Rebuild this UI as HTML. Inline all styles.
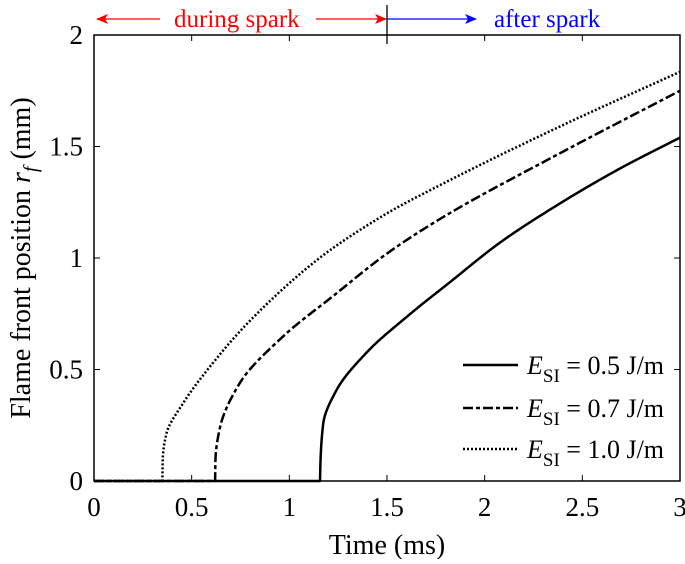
<!DOCTYPE html>
<html><head><meta charset="utf-8"><style>
body{margin:0;background:#fff;}
svg text{font-family:"Liberation Serif",serif;}
</style></head><body>
<svg width="685" height="559" viewBox="0 0 685 559">
<defs>
<marker id="ar" markerWidth="12" markerHeight="10" refX="11" refY="5" orient="auto" markerUnits="userSpaceOnUse"><path d="M0,0 L12,5 L0,10 L3,5Z" fill="red"/></marker>
<marker id="ab" markerWidth="12" markerHeight="10" refX="11" refY="5" orient="auto" markerUnits="userSpaceOnUse"><path d="M0,0 L12,5 L0,10 L3,5Z" fill="blue"/></marker>
</defs>
<g>
<line x1="160" y1="19" x2="97" y2="19" stroke="red" stroke-width="1.3" marker-end="url(#ar)"/>
<text x="174" y="27" fill="red" font-size="25">during spark</text>
<line x1="316" y1="19" x2="386" y2="19" stroke="red" stroke-width="1.3" marker-end="url(#ar)"/>
<line x1="387" y1="5" x2="387" y2="44" stroke="#000" stroke-width="1.3"/>
<line x1="387" y1="19" x2="476" y2="19" stroke="blue" stroke-width="1.3" marker-end="url(#ab)"/>
<text x="494" y="27" fill="blue" font-size="25">after spark</text>
</g>
<g id="axes"></g>
<g id="series"></g>
<rect x="94" y="35" width="586" height="446" fill="none" stroke="#000" stroke-width="1.5"/>
<text x="387" y="554" text-anchor="middle" font-size="28">Time (ms)</text>
<text transform="translate(30,258) rotate(-90)" text-anchor="middle" font-size="28">Flame front position  <tspan font-style="italic">r</tspan><tspan font-style="italic" font-size="20" dy="7">f</tspan><tspan dy="-7"> (mm)</tspan></text>
<g>
<line x1="463" y1="365" x2="518" y2="365" stroke="#000" stroke-width="2.5"/>
<text x="527" y="374" font-size="26"><tspan font-style="italic">E</tspan><tspan font-size="19" dy="8">SI</tspan><tspan dy="-8"> = 0.5 J/m</tspan></text>
<line x1="463" y1="408" x2="518" y2="408" stroke="#000" stroke-width="2.5" stroke-dasharray="10,3,4,3"/>
<text x="527" y="417" font-size="26"><tspan font-style="italic">E</tspan><tspan font-size="19" dy="8">SI</tspan><tspan dy="-8"> = 0.7 J/m</tspan></text>
<line x1="463" y1="449" x2="518" y2="449" stroke="#000" stroke-width="2.5" stroke-dasharray="2,2"/>
<text x="527" y="458" font-size="26"><tspan font-style="italic">E</tspan><tspan font-size="19" dy="8">SI</tspan><tspan dy="-8"> = 1.0 J/m</tspan></text>
</g>
</svg>
<script>
const xTicks=[0,0.5,1,1.5,2,2.5,3];
const xTickLabels=["0","0.5","1","1.5","2","2.5","3"];
const yTicks=[0,0.5,1,1.5,2];
const yTickLabels=["0","0.5","1","1.5","2"];
const t05=[0,1.157,1.16,1.174,1.243,1.40,1.62,1.82,2.08,2.386,2.69,3];
const r05=[0,0,0.1,0.26,0.41,0.58,0.75,0.89,1.07,1.245,1.40,1.54];
const t07=[0,0.62,0.622,0.645,0.747,0.97,1.225,1.50,1.80,2.386,3];
const r07=[0,0,0.1,0.24,0.44,0.65,0.83,1.02,1.19,1.47,1.75];
const t10=[0,0.35,0.352,0.37,0.457,0.628,0.80,1.14,1.48,1.79,2.386,3];
const r10=[0,0,0.1,0.21,0.35,0.55,0.72,0.99,1.19,1.335,1.59,1.835];
const NS="http://www.w3.org/2000/svg";
const X=v=>94+v/3*586, Y=v=>481-v/2*446;
const ax=document.getElementById('axes'), se=document.getElementById('series');
function mk(tag,attrs,parent){const e=document.createElementNS(NS,tag);for(const k in attrs)e.setAttribute(k,attrs[k]);parent.appendChild(e);return e;}
xTicks.forEach((v,i)=>{
 const a=mk('line',{x1:X(v),x2:X(v),y1:481,y2:475,stroke:'#000','stroke-width':1},ax);
 
 
 const b=mk('line',{x1:X(v),x2:X(v),y1:35,y2:41,stroke:'#000','stroke-width':1},ax);
 
 
 const t=mk('text',{x:X(v),y:516,'text-anchor':'middle','font-size':27},ax);t.textContent=xTickLabels[i];
 
 
});
yTicks.forEach((v,i)=>{
 const a=mk('line',{x1:94,x2:100,y1:Y(v),y2:Y(v),stroke:'#000','stroke-width':1},ax);
 
 
 const b=mk('line',{x1:674,x2:680,y1:Y(v),y2:Y(v),stroke:'#000','stroke-width':1},ax);
 
 
 const t=mk('text',{x:83,y:Y(v)+9,'text-anchor':'end','font-size':27},ax);t.textContent=yTickLabels[i];
 
 
});
// monotone cubic (Fritsch-Carlson) of t as a function of r, for the rising part
function monotone(xs,ys){
 const n=xs.length,d=[],m=new Array(n);
 for(let i=0;i<n-1;i++)d.push((ys[i+1]-ys[i])/(xs[i+1]-xs[i]));
 m[0]=d[0];m[n-1]=d[n-2];
 for(let i=1;i<n-1;i++)m[i]=(d[i-1]*d[i]<=0)?0:2/(1/d[i-1]+1/d[i]);
 return function(x){
  let i=0;while(i<n-2&&x>xs[i+1])i++;
  const h=xs[i+1]-xs[i],s=(x-xs[i])/h;
  const h00=2*s*s*s-3*s*s+1,h10=s*s*s-2*s*s+s,h01=-2*s*s*s+3*s*s,h11=s*s*s-s*s;
  return h00*ys[i]+h10*h*m[i]+h01*ys[i+1]+h11*h*m[i+1];
 };
}
function line(ts,rs,dash,name){
 let k=0;while(k<rs.length-1&&rs[k+1]===0)k++;
 const R=rs.slice(k),T=ts.slice(k);
 const f=monotone(R,T);
 let d='M'+X(ts[0]).toFixed(1)+','+Y(0).toFixed(1)+' L'+X(T[0]).toFixed(1)+','+Y(0).toFixed(1);
 const r0=R[0],r1=R[R.length-1],N=150;
 for(let j=1;j<=N;j++){const r=r0+(r1-r0)*j/N;d+=' L'+X(f(r)).toFixed(2)+','+Y(r).toFixed(2);}
 const p=mk('path',{d:d,fill:'none',stroke:'#000','stroke-width':2.5,'stroke-linejoin':'round'},se);
 if(dash)p.setAttribute('stroke-dasharray',dash);
 
 
}
line(t05,r05,null,'series-0.5');
line(t07,r07,'10,3,4,3','series-0.7');
line(t10,r10,'2,2','series-1.0');
</script>
</body></html>
